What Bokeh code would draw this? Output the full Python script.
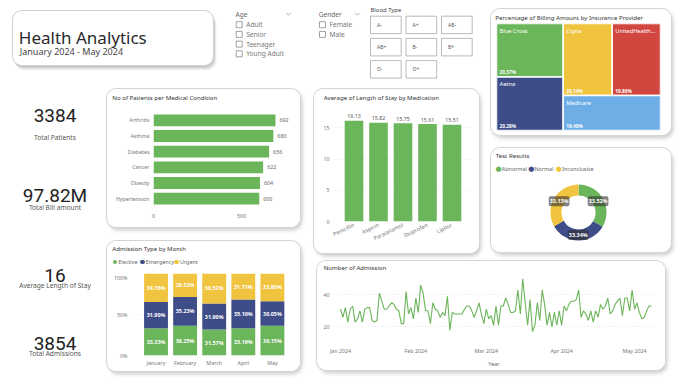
import math
import numpy as np
import pandas as pd
from bokeh.plotting import figure
from bokeh.layouts import row, column
from bokeh.models import (Range1d, Spacer, FixedTicker, NumeralTickFormatter, Div,
                          DatetimeTickFormatter, ColumnDataSource, Label)
from bokeh.core.properties import value
from bokeh.embed import file_html
from bokeh.resources import INLINE

# ---------------- data ----------------
title_text = "Health Analytics"
subtitle_text = "January 2024 - May 2024"
age_options = ["Adult", "Senior", "Teenager", "Young Adult"]
gender_options = ["Female", "Male"]
blood_types = ["A-", "A+", "AB-", "AB+", "B-", "B+", "O-", "O+"]

kpi_values = ["3384", "97.82M", "16", "3854"]
kpi_labels = ["Total Patients", "Total Bill amount", "Average Length of Stay", "Total Admissions"]

conditions = ["Arthritis", "Asthma", "Diabetes", "Cancer", "Obesity", "Hypertension"]
condition_patients = [692, 680, 656, 622, 604, 600]
condition_ticks = [0, 500]

medications = ["Penicillin", "Aspirin", "Paracetamol", "Ibuprofen", "Lipitor"]
medication_avg_stay = [16.13, 15.82, 15.75, 15.61, 15.51]
stay_ticks = [0, 5, 10, 15]

providers = ["Blue Cross", "Aetna", "Cigna", "UnitedHealthcare", "Medicare"]
provider_labels = ["Blue Cross", "Aetna", "Cigna", "UnitedHealth...", "Medicare"]
provider_pct = [20.37, 20.28, 20.14, 19.80, 19.40]

test_results = ["Abnormal", "Normal", "Inconclusive"]
test_pct = [33.52, 33.34, 33.13]

months = ["January", "February", "March", "April", "May"]
admission_types = ["Elective", "Emergency", "Urgent"]
elective_pct = [33.33, 36.25, 31.57, 33.19, 36.15]
emergency_pct = [31.90, 35.23, 31.90, 35.10, 30.05]
urgent_pct = [34.76, 28.52, 36.52, 31.71, 33.80]
share_ticks = [0, 0.5, 1.0]

admission_start = "2024-01-01"
daily_admissions = [
    31, 26, 32, 23, 31, 33, 23, 25, 30, 23,
    31, 32, 32, 24, 23, 24, 41, 36, 31, 31,
    33, 35, 34, 31, 30, 22, 22, 42, 28, 32,
    25, 38, 29, 46, 41, 30, 30, 22, 35, 31,
    30, 26, 29, 27, 39, 18, 29, 28, 28, 28,
    28, 31, 33, 33, 30, 26, 30, 35, 28, 22,
    31, 25, 27, 21, 33, 21, 33, 33, 38, 34,
    29, 29, 30, 43, 28, 50, 35, 21, 37, 17,
    21, 35, 24, 43, 34, 21, 29, 20, 29, 21,
    30, 21, 33, 30, 34, 36, 36, 37, 43, 26,
    30, 28, 24, 30, 23, 30, 26, 34, 31, 33,
    38, 28, 30, 34, 36, 38, 27, 38, 38, 30,
    43, 31, 35, 29, 25, 26, 30, 33, 33,
]
month_ticks = ["2024-01-01", "2024-02-01", "2024-03-01", "2024-04-01", "2024-05-01"]
admission_ticks = [20, 40]

# ---------------- style ----------------
GREEN = "#6BB55A"
NAVY = "#3E4C88"
YELLOW = "#F1C43F"
RED = "#D1463F"
LBLUE = "#6DAEE6"
FONT = "Noto Sans"
NUMFONT = "Roboto"
TITLE_SIZE = "6.1px"
PANEL_STYLE = {
    "border-radius": "9px",
    "overflow": "hidden",
    "background-color": "white",
    "box-shadow": "0 0 0 1px #d4d4d4, 2px 3px 4px rgba(0,0,0,0.22)",
}


def base_fig(w, h, xr, yr, l=0, r=0, t=0, b=0, panel=False, axes=True, **kw):
    args = dict(width=w, height=h, x_range=xr, y_range=yr, output_backend="svg",
                toolbar_location=None, min_border_left=l, min_border_right=r,
                min_border_top=t, min_border_bottom=b)
    if panel:
        args["styles"] = PANEL_STYLE
    if not axes:
        args["x_axis_location"] = None
        args["y_axis_location"] = None
    args.update(kw)
    p = figure(**args)
    p.outline_line_color = None
    p.background_fill_color = "white"
    p.border_fill_color = "white"
    p.xgrid.grid_line_color = None
    p.ygrid.grid_line_color = None
    return p


def style_axis(ax, standoff=4, size="5.3px", color="#777777"):
    ax.axis_line_color = None
    ax.major_tick_line_color = None
    ax.minor_tick_line_color = None
    ax.major_tick_out = 0
    ax.major_tick_in = 0
    ax.minor_tick_out = 0
    ax.minor_tick_in = 0
    ax.major_label_text_font = FONT
    ax.major_label_text_font_size = size
    ax.major_label_text_color = color
    ax.major_label_standoff = standoff


def header(w, h, title, tx, ty, legend=None):
    s = [f'<div style="position:relative;width:{w}px;height:{h}px;overflow:hidden;'
         f'font-family:\'{FONT}\';background:white;">']
    s.append(f'<span style="position:absolute;left:{tx}px;top:{ty - 4}px;line-height:8px;'
             f'font-size:{TITLE_SIZE};color:#333333;white-space:nowrap;">{title}</span>')
    if legend is not None:
        ly, mxs, lxs, labels, colors = legend
        for mx, lx, lab, col in zip(mxs, lxs, labels, colors):
            s.append(f'<span style="position:absolute;left:{mx - 2.3}px;top:{ly - 2.3}px;'
                     f'width:4.6px;height:4.6px;border-radius:50%;background:{col};"></span>')
            s.append(f'<span style="position:absolute;left:{lx}px;top:{ly - 4}px;'
                     f'line-height:8px;font-size:5.4px;color:#666666;white-space:nowrap;">'
                     f'{lab}</span>')
    s.append("</div>")
    return Div(text="".join(s), width=w, height=h, margin=0)


def panel(*children):
    return column(*children, styles=PANEL_STYLE)


# ---------------- header left (title + age slicer) ----------------
hl = base_fig(299, 81, Range1d(8, 307), Range1d(86, 5), axes=False)
for dx, dy, a in [(1, 2, 0.10), (2, 3.5, 0.08), (3, 5, 0.05)]:
    hl.quad(left=12 + dx, right=213 + dx, top=10 + dy, bottom=65 + dy, fill_color="black",
            fill_alpha=a, line_color=None, border_radius=9)
hl.quad(left=12, right=213, top=10, bottom=65, fill_color="white", line_color="#cfcfcf",
        line_width=1, border_radius=9)
hl.text(x=[18.3], y=[36.7], text=[title_text], text_font=value(FONT), text_font_size="17px",
        text_color="#2a2a2a", text_baseline="alphabetic")
hl.text(x=[19.3], y=[50.6], text=[subtitle_text], text_font=value(FONT), text_font_size="9px",
        text_color="#444444", text_baseline="alphabetic")

hl.text(x=[235], y=[13.5], text=["Age"], text_font=value(FONT), text_font_size="6.5px",
        text_color="#666666", text_baseline="middle")
hl.line(x=[285.7, 288, 290.3], y=[12.3, 14.6, 12.3], line_color="#999999", line_width=0.8)
age_y = [24.2 + 9.7 * i for i in range(len(age_options))]
hl.quad(left=235.7, right=241.7, top=[y - 3 for y in age_y], bottom=[y + 3 for y in age_y],
        fill_color="white", line_color="#8a8a8a", line_width=0.8)
hl.text(x=245.7, y=age_y, text=age_options, text_font=value(FONT), text_font_size="6.6px",
        text_color="#777777", text_baseline="middle")

# ---------------- header right (gender + blood type) ----------------
hr = base_fig(184, 83, Range1d(307, 491), Range1d(88, 5), axes=False)
hr.text(x=[318.3], y=[13.5], text=["Gender"], text_font=value(FONT), text_font_size="6.5px",
        text_color="#666666", text_baseline="middle")
hr.line(x=[354.5, 356.8, 359.1], y=[12.3, 14.6, 12.3], line_color="#999999", line_width=0.8)
g_y = [24.2 + 9.7 * i for i in range(len(gender_options))]
hr.quad(left=319, right=325, top=[y - 3 for y in g_y], bottom=[y + 3 for y in g_y],
        fill_color="white", line_color="#8a8a8a", line_width=0.8)
hr.text(x=329, y=g_y, text=gender_options, text_font=value(FONT), text_font_size="6.6px",
        text_color="#777777", text_baseline="middle")

hr.text(x=[370], y=[9.4], text=["Blood Type"], text_font=value(FONT), text_font_size="5.9px",
        text_color="#444444", text_baseline="middle")
bl = [370 + (i % 3) * 35.5 for i in range(len(blood_types))]
bt = [15.7 + (i // 3) * 22.2 for i in range(len(blood_types))]
hr.quad(left=bl, right=[v + 30.7 for v in bl], top=bt, bottom=[v + 17.5 for v in bt],
        fill_color="white", line_color="#a8a8a8", line_width=0.8)
hr.text(x=[v + 6.5 for v in bl], y=[v + 8.75 for v in bt], text=blood_types,
        text_font=value(FONT), text_font_size="5px", text_color="#555555",
        text_baseline="middle")

# ---------------- KPI cards ----------------
kp = base_fig(99, 287, Range1d(8, 107), Range1d(373, 86), axes=False)
kp.text(x=54.5, y=[115, 195, 275, 343.3], text=kpi_values, text_font=value(NUMFONT),
        text_font_size="19px", text_color="#222222", text_align="center",
        text_baseline="alphabetic")
kp.text(x=54.5, y=[136.7, 206.7, 284.7, 353.3], text=kpi_labels, text_font=value(FONT),
        text_font_size="6.6px", text_color="#555555", text_align="center",
        text_baseline="middle")

# ---------------- patients per condition ----------------
n = len(conditions)
ypos = [n - 1 - i for i in range(n)]
bar = base_fig(193, 115, Range1d(0, 800), Range1d(-0.5, n - 0.5), l=46, r=6, t=0, b=21)
bsrc = ColumnDataSource(dict(y=ypos, v=condition_patients,
                             lbl=[str(v) for v in condition_patients]))
bar.hbar(y="y", left=0, right="v", height=0.76, source=bsrc, fill_color=GREEN, line_color=None)
bar.text(x="v", y="y", text="lbl", source=bsrc, x_offset=4, text_baseline="middle",
         text_font=value(FONT), text_font_size="5.3px", text_color="#666666")
bar.yaxis.ticker = FixedTicker(ticks=ypos)
bar.yaxis.major_label_overrides = {y: c for y, c in zip(ypos, conditions)}
bar.xaxis.ticker = FixedTicker(ticks=condition_ticks)
style_axis(bar.yaxis, standoff=4)
style_axis(bar.xaxis, standoff=7)
bar_panel = panel(header(193, 23, "No of Patients per Medical Condition", 5.3, 8.7), bar)

# ---------------- avg length of stay by medication ----------------
mpos = list(range(len(medications)))
med = base_fig(165, 144, Range1d(-0.796, 4.837), Range1d(0, 17.95), l=20, r=7, t=0, b=32)
msrc = ColumnDataSource(dict(x=mpos, v=medication_avg_stay,
                             lbl=[f"{v:.2f}" for v in medication_avg_stay]))
med.vbar(x="x", top="v", bottom=0, width=0.76, source=msrc, fill_color=GREEN, line_color=None)
med.text(x="x", y="v", text="lbl", source=msrc, y_offset=-2.5, text_align="center",
         text_baseline="bottom", text_font=value(FONT), text_font_size="5.2px",
         text_color="#555555")
med.yaxis.ticker = FixedTicker(ticks=stay_ticks)
med.ygrid.ticker = FixedTicker(ticks=stay_ticks)
med.ygrid.grid_line_color = "#e6e6e6"
med.ygrid.grid_line_dash = "1 2"
med.xaxis.ticker = FixedTicker(ticks=mpos)
med.xaxis.major_label_overrides = {i: m for i, m in zip(mpos, medications)}
med.xaxis.major_label_orientation = math.pi / 7
style_axis(med.yaxis, standoff=5)
style_axis(med.xaxis, standoff=3, size="5.5px")
med_panel = panel(header(165, 20, "Average of Length of Stay by Medication", 9.7, 8.7), med)

# ---------------- admission type by month ----------------
apos = list(range(len(months)))
adm = base_fig(193, 98, Range1d(-0.808, 4.553), Range1d(0, 1), l=25, r=12, t=0, b=16)
series = [elective_pct, emergency_pct, urgent_pct]
asrc = ColumnDataSource(dict(x=apos, **{k: [v / 100 for v in s]
                                         for k, s in zip(admission_types, series)}))
adm.vbar_stack(admission_types, x="x", width=0.82, source=asrc,
               fill_color=[GREEN, NAVY, YELLOW], line_color=None)
lx, ly, lt = [], [], []
for i in apos:
    base = 0.0
    for s in series:
        v = s[i] / 100
        lx.append(i)
        ly.append(base + v / 2)
        lt.append(f"{s[i]:.2f}%")
        base += v
adm.text(x=lx, y=ly, text=lt, text_align="center", text_baseline="middle",
         text_font=value(FONT), text_font_size="5.4px", text_font_style="bold",
         text_color="white")
adm.yaxis.ticker = FixedTicker(ticks=share_ticks)
adm.yaxis.formatter = NumeralTickFormatter(format="0%")
adm.ygrid.ticker = FixedTicker(ticks=share_ticks)
adm.ygrid.grid_line_color = "#e6e6e6"
adm.ygrid.grid_line_dash = "1 2"
adm.ygrid.level = "underlay"
adm.xaxis.ticker = FixedTicker(ticks=apos)
adm.xaxis.major_label_overrides = {i: m for i, m in zip(apos, months)}
style_axis(adm.yaxis, standoff=5)
style_axis(adm.xaxis, standoff=3)
adm_head = header(193, 32, "Admission Type by Month", 5.3, 7.7,
                  legend=(21, [8, 35.3, 69.7], [11.3, 38.7, 73], admission_types,
                          [GREEN, NAVY, YELLOW]))
adm_panel = panel(adm_head, adm)

# ---------------- number of admission ----------------
dates = pd.date_range(admission_start, periods=len(daily_admissions), freq="D")
x0 = pd.Timestamp(admission_start) - pd.Timedelta(hours=79)
x1 = x0 + pd.Timedelta(hours=3190)
num = base_fig(348, 93, Range1d(x0.to_pydatetime(), x1.to_pydatetime()),
               Range1d(13.37, 50.77), l=15, r=10, t=0, b=27, x_axis_type="datetime")
num.line(x=dates, y=daily_admissions, line_color=GREEN, line_width=1.1)
num.xaxis.ticker = FixedTicker(ticks=[pd.Timestamp(t).value / 1e6 for t in month_ticks])
fmt = "%b %Y"
num.xaxis.formatter = DatetimeTickFormatter(days=fmt, months=fmt, years=fmt, hours=fmt,
                                            minutes=fmt, seconds=fmt, milliseconds=fmt,
                                            microseconds=fmt, minsec=fmt, hourmin=fmt)
num.yaxis.ticker = FixedTicker(ticks=admission_ticks)
num.ygrid.ticker = FixedTicker(ticks=admission_ticks)
num.ygrid.grid_line_color = "#e6e6e6"
num.ygrid.grid_line_dash = "1 2"
style_axis(num.yaxis, standoff=3)
style_axis(num.xaxis, standoff=9)
num.xaxis.axis_label = "Year"
num.xaxis.axis_label_text_font = FONT
num.xaxis.axis_label_text_font_size = "5.5px"
num.xaxis.axis_label_text_font_style = "normal"
num.xaxis.axis_label_text_color = "#666666"
num.xaxis.axis_label_standoff = 2
num_panel = panel(header(348, 16, "Number of Admission", 6.7, 7), num)

# ---------------- treemap ----------------
TM_W, TM_H = 164.0, 107.0


def squarify(vals, x, y, w, h):
    total = sum(vals)
    areas = [v / total * w * h for v in vals]
    idx = list(range(len(areas)))
    out = {}

    def worst(rw, side):
        s = sum(areas[j] for j in rw)
        return max(max(side * side * areas[j] / (s * s), (s * s) / (side * side * areas[j]))
                   for j in rw)

    while idx:
        side = min(w, h)
        rw = [idx[0]]
        k = 1
        while k < len(idx) and worst(rw + [idx[k]], side) <= worst(rw, side):
            rw.append(idx[k])
            k += 1
        s = sum(areas[j] for j in rw)
        if w >= h:
            cw = s / h
            yy = y
            for j in rw:
                hh = areas[j] / cw
                out[j] = (x, yy, cw, hh)
                yy += hh
            x += cw
            w -= cw
        else:
            rh = s / w
            xx = x
            for j in rw:
                ww = areas[j] / rh
                out[j] = (xx, y, ww, rh)
                xx += ww
            y += rh
            h -= rh
        idx = idx[len(rw):]
    return [out[j] for j in range(len(vals))]


rects = squarify(provider_pct, 0, 0, TM_W, TM_H)
tm = base_fig(180, 112, Range1d(0, TM_W), Range1d(TM_H, 0), l=5, r=11, t=0, b=5, axes=False)
tsrc = ColumnDataSource(dict(
    left=[r[0] for r in rects], right=[r[0] + r[2] for r in rects],
    top=[r[1] for r in rects], bottom=[r[1] + r[3] for r in rects],
    color=[GREEN, NAVY, YELLOW, RED, LBLUE], name=provider_labels,
    pct=[f"{v:.2f}%" for v in provider_pct]))
tm.quad(left="left", right="right", top="top", bottom="bottom", fill_color="color",
        line_color="white", line_width=1.5, source=tsrc)
tm.text(x="left", y="top", text="name", source=tsrc, x_offset=3, y_offset=3,
        text_baseline="top", text_font=value(FONT), text_font_size="5.7px", text_color="white")
tm.text(x="left", y="bottom", text="pct", source=tsrc, x_offset=3, y_offset=-2,
        text_baseline="bottom", text_font=value(FONT), text_font_size="4.8px",
        text_font_style="bold", text_color="white")
tm_panel = panel(header(180, 14, "Percentage of Billing Amount by Insurance Provider", 4.3, 8.7),
                 tm)

# ---------------- test results donut ----------------
td = base_fig(180, 104, Range1d(-87, 93), Range1d(-40, 64), axes=False, panel=True)
tot = sum(test_pct)
cum = np.concatenate([[0.0], np.cumsum(test_pct)]) / tot
starts = math.pi / 2 - 2 * math.pi * cum[:-1]
ends = math.pi / 2 - 2 * math.pi * cum[1:]
mids = (starts + ends) / 2
dsrc = ColumnDataSource(dict(start=starts, end=ends, color=[GREEN, NAVY, YELLOW],
                             lx=22.5 * np.cos(mids), ly=22.5 * np.sin(mids),
                             lbl=[f"{v:.2f}%" for v in test_pct]))
td.annular_wedge(x=0, y=0, inner_radius=17, outer_radius=28, start_angle="start",
                 end_angle="end", direction="clock", fill_color="color", line_color=None,
                 source=dsrc)
td.text(x="lx", y="ly", text="lbl", source=dsrc, text_align="center", text_baseline="middle",
        text_font=value(FONT), text_font_size="5.4px", text_font_style="bold",
        text_color="white", background_fill_color="#303030", background_fill_alpha=0.6,
        padding=1, border_radius=2)
td.add_layout(Label(x=4.3, y=7, x_units="canvas", y_units="canvas", text="Test Results",
                    text_font=FONT, text_font_size=TITLE_SIZE, text_color="#333333",
                    text_baseline="middle"))
for cx, tx, lab, col in zip([7, 39.7, 67.3], [10.3, 43, 70.7], test_results,
                            [GREEN, NAVY, YELLOW]):
    td.add_layout(Label(x=cx, y=20.3, x_units="canvas", y_units="canvas", text="\u25CF",
                        text_font="DejaVu Sans", text_font_size="7px", text_color=col,
                        text_align="center", text_baseline="middle"))
    td.add_layout(Label(x=tx, y=20.3, x_units="canvas", y_units="canvas", text=lab,
                        text_font=FONT, text_font_size="5.4px", text_color="#666666",
                        text_baseline="middle"))

# ---------------- layout ----------------
left_part = column(
    hl,
    row(kp,
        column(Spacer(width=193, height=3), bar_panel, Spacer(width=193, height=14), adm_panel),
        Spacer(width=7, height=10)),
)
mcol = column(hr, Spacer(width=184, height=1),
              row(Spacer(width=7, height=164), med_panel, Spacer(width=12, height=164)))
tcol = column(Spacer(width=180, height=4), tm_panel, Spacer(width=180, height=13), td)
right_part = column(row(mcol, tcol), Spacer(width=364, height=8),
                    row(Spacer(width=10, height=109), num_panel))
root = column(Spacer(width=10, height=5),
              row(Spacer(width=8, height=10), row(left_part, right_part)))

open("out.html", "w").write(file_html(root, INLINE, title="Health Analytics"))
